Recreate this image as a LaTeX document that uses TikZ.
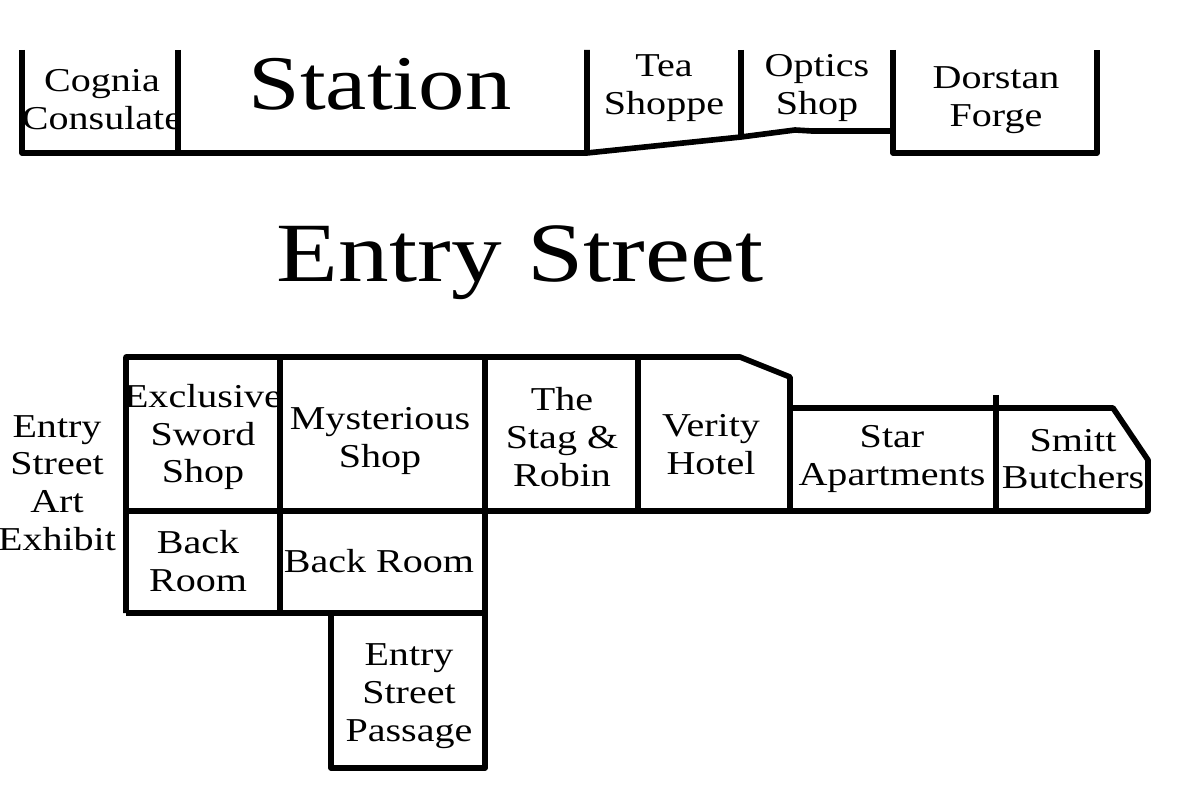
\documentclass[tikz,border=0pt]{standalone}
\usepackage{fontspec}
\setmainfont[FakeStretch=1.2]{Liberation Serif}
\begin{document}
\begin{tikzpicture}[x=0.02cm, y=-0.02cm,
  wall/.style = {line width=3.2pt, line join=round},
  room/.style = {align=center, inner sep=1pt, font=\fontsize{19}{21.5}\selectfont}]
\useasboundingbox (0,0) rectangle (1200,793);
% top row
\draw[wall] (22,50) -- (22,153) -- (587,153);
\draw[wall] (178,50) -- (178,153);
\draw[wall] (587,50) -- (587,153) -- (741,137) -- (795,130) -- (812,131) -- (893,131);
\draw[wall] (741,50) -- (741,137);
\draw[wall] (893,50) -- (893,153) -- (1097,153) -- (1097,50);
\node[room] (cognia) at (102,100) {Cognia\\Consulate};
\node[font=\fontsize{44}{48}\selectfont] (station) at (380,84) {Station};
\node[room] (tea) at (664,88) {Tea\\Shoppe};
\node[room] (optics) at (817,88) {Optics\\Shop};
\node[room] (forge) at (996,100) {Dorstan\\Forge};
\node[font=\fontsize{48}{52}\selectfont] (street) at (520,263) {Entry Street};
% lower block
\draw[wall] (126,613) -- (126,357) -- (740,357) -- (790,377) -- (790,408) -- (1113,408) -- (1148,460) -- (1148,511) -- (126,511);
\draw[wall] (126,613) -- (485,613);
\draw[wall] (280,357) -- (280,613);
\draw[wall] (485,357) -- (485,768) -- (331,768) -- (331,613);
\draw[wall] (638,357) -- (638,511);
\draw[wall] (790,408) -- (790,511);
\draw[wall] (996,395) -- (996,511);
\node[room] (sword) at (203,437) {Exclusive\\Sword\\Shop};
\node[room] (myst) at (380,441) {Mysterious\\Shop};
\node[room] (stag) at (562,437) {The\\Stag \&\\Robin};
\node[room] (verity) at (711,445) {Verity\\Hotel};
\node[room] (star) at (892,459) {Star\\Apartments};
\node[room] (smitt) at (1073,459) {Smitt\\Butchers};
\node[room] (back1) at (198,561) {Back\\Room};
\node[room] (back2) at (379,561) {Back Room};
\node[room] (passage) at (409,696) {Entry\\Street\\Passage};
\node[room] (art) at (57,483) {Entry\\Street\\Art\\Exhibit};
\end{tikzpicture}
\end{document}
